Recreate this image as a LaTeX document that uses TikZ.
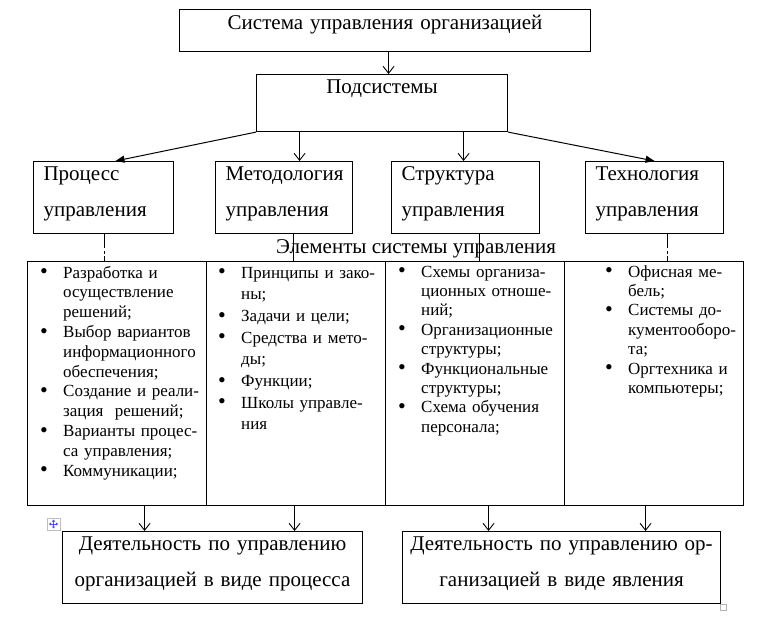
\documentclass[tikz,border=0pt]{standalone}
\usepackage{fontspec}
\setmainfont{Liberation Serif}
\usetikzlibrary{arrows.meta,positioning,calc}

\newcommand{\bpt}{\makebox[23pt][l]{\raisebox{-0.6pt}{\scalebox{1.3}{\textbullet}}}}
\newcommand{\bsp}{\hspace*{23pt}}

\begin{document}
\begin{tikzpicture}[
  x=1pt, y=-1pt,
  font=\fontsize{21}{36}\selectfont,
  % --- estilos de los bloques ---
  box/.style={
    rectangle,
    draw,
    line width=1.1pt,
    inner xsep=10pt,
    inner ysep=0pt,
    text height=19pt,
    text depth=53pt,
    anchor=north west
  },
  cell/.style={
    rectangle,
    draw,
    line width=1.1pt,
    minimum width=179pt,
    minimum height=244pt,
    inner sep=0pt,
    anchor=north west
  },
  items/.style={
    text width=160pt,
    align=left,
    inner sep=0pt,
    anchor=base west
  },
  vline/.style={
    -{Straight Barb[length=7pt,width=11pt]},
    line width=0.9pt
  },
  line/.style={
    -{Triangle[length=9pt,width=7pt]},
    line width=1pt
  },
  link/.style={line width=1pt},
  broken/.style={line width=1pt, dash pattern=on 14pt off 3pt on 3pt off 2pt}
]
\useasboundingbox (0,0) rectangle (760,616);

% ---- NIVEL SUPERIOR ----
\node[box, text height=20pt, text depth=22pt, text width=391pt, align=center] (title) at (179,9) {Система управления организацией};
\node[box, text depth=38pt, text width=231pt, align=center] (subs) at (256,74) {Подсистемы};

% ---- SUBSISTEMAS ----
\node[box, text width=120pt, align=left] (proc) at (33,161) {Процесс\\управления};
\node[box, text width=117pt, align=left] (meth) at (215,161) {Методология\\управления};
\node[box, text width=128pt, align=left] (struct) at (391,161) {Структура\\управления};
\node[box, text width=118pt, align=left] (tech) at (585,161) {Технология\\управления};

% ---- TABLA DE ELEMENTOS ----
\node[cell] (col1) at (27,261) {};
\node[cell] (col2) at (206,261) {};
\node[cell] (col3) at (385,261) {};
\node[cell] (col4) at (564,261) {};

\node[anchor=base] (elem) at (416,253) {Элементы системы управления};

\node[items, font=\fontsize{17}{19.8}\selectfont] (list1) at (40,278) {\bpt Разработка и\\
  \bsp осуществление\\ \bsp решений;\\
  \bpt Выбор вариантов\\ \bsp информационного\\ \bsp обеспечения;\\
  \bpt Создание и реали-\\ \bsp зация\ \ решений;\\
  \bpt Варианты процес-\\ \bsp са управления;\\
  \bpt Коммуникации;};
\node[items, font=\fontsize{17}{21.7}\selectfont] (list2) at (218,278) {\bpt Принципы и зако-\\ \bsp ны;\\
  \bpt Задачи и цели;\\
  \bpt Средства и мето-\\ \bsp ды;\\
  \bpt Функции;\\
  \bpt Школы управле-\\ \bsp ния};
\node[items, font=\fontsize{17}{19.4}\selectfont] (list3) at (398,277) {\bpt Схемы организа-\\
  \bsp ционных отноше-\\ \bsp ний;\\
  \bpt Организационные\\ \bsp структуры;\\
  \bpt Функциональные\\ \bsp структуры;\\
  \bpt Схема обучения\\ \bsp персонала;};
\node[items, font=\fontsize{17}{19.4}\selectfont] (list4) at (605,277) {\bpt Офисная ме-\\ \bsp бель;\\
  \bpt Системы до-\\ \bsp кументооборо-\\ \bsp та;\\
  \bpt Оргтехника и\\ \bsp компьютеры;};

% ---- RESULTADOS ----
\node[box, text width=280pt, align=center] (act1) at (62,531) {Деятельность по управлению\\организацией в виде процесса};
\node[box, inner xsep=3pt, text width=312pt, align=center] (act2) at (402,531) {Деятельность по управлению ор-\\ганизацией в виде явления};

% ---- CONEXIONES ----
\draw[vline] ([xshift=3.5pt]title.south) -- ([xshift=3.5pt]title.south |- subs.north);

\draw[line] (subs.south west) -- ([xshift=12pt]proc.north);
\draw[vline] ([xshift=-82.5pt]subs.south) -- ([xshift=-82.5pt]subs.south |- meth.north);
\draw[vline] ([xshift=81.5pt]subs.south) -- ([xshift=81.5pt]subs.south |- struct.north);
\draw[line] (subs.south east) -- (tech.north);

\draw[broken] ([xshift=1pt]proc.south) -- ([xshift=1pt]proc.south |- col1.north);
\draw[link] ([xshift=9.5pt]meth.south) -- ([xshift=9.5pt]meth.south |- col2.north);
\draw[link] ([xshift=14pt]struct.south) -- ([xshift=14pt]struct.south |- col3.north);
\draw[broken] ([xshift=13pt]tech.south) -- ([xshift=13pt]tech.south |- col4.north);

\draw[vline] ([xshift=27.5pt]col1.south) -- ([xshift=27.5pt]col1.south |- act1.north);
\draw[vline] ([xshift=-1.5pt]col2.south) -- ([xshift=-1.5pt]col2.south |- act1.north);
\draw[vline] ([xshift=13.5pt]col3.south) -- ([xshift=13.5pt]col3.south |- act2.north);
\draw[vline] ([xshift=-8.5pt]col4.south) -- ([xshift=-8.5pt]col4.south |- act2.north);

% ---- marcas de la tabla ----
\draw[gray!50, fill=white] (47,518) rectangle (60,530);
\draw[blue!70, line width=0.8pt, {Triangle[length=2pt,width=3pt]}-{Triangle[length=2pt,width=3pt]}] (49,524) -- (58,524);
\draw[blue!70, line width=0.8pt, {Triangle[length=2pt,width=3pt]}-{Triangle[length=2pt,width=3pt]}] (53.5,519.5) -- (53.5,528.5);
\draw[gray!60, fill=white] (720,604) rectangle (726,610);

\end{tikzpicture}
\end{document}
